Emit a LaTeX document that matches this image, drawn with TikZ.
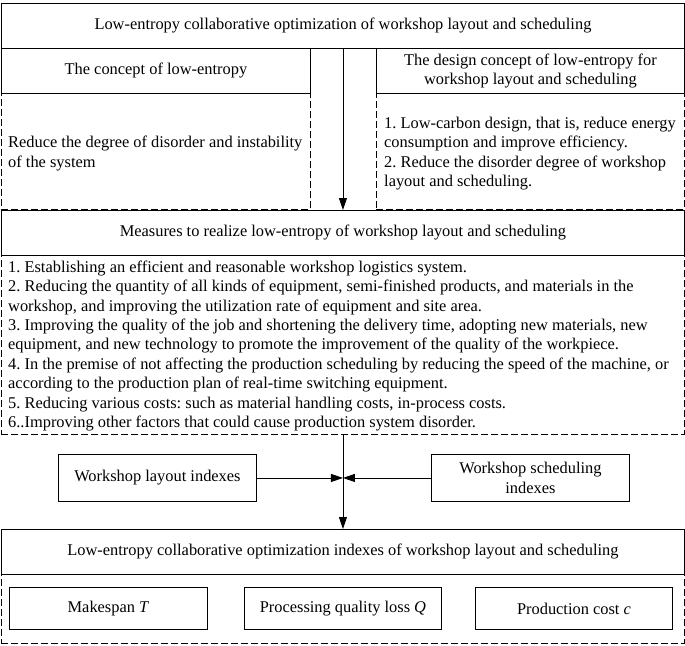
\documentclass[tikz,border=0pt]{standalone}
\usepackage{fontspec}
\setmainfont{Liberation Serif}
\usetikzlibrary{arrows.meta}
\begin{document}
\frenchspacing
\begin{tikzpicture}[x=1pt,y=-1pt,
  solidbox/.style={draw, line width=0.9pt, inner sep=0pt, align=center, anchor=north west, fill=white},
  dashbox/.style={draw, dash pattern=on 7pt off 3pt, line width=0.9pt, anchor=north west, inner sep=0pt},
  txt/.style={anchor=west, align=left, inner sep=0pt},
  arr/.style={line width=0.9pt, -{Triangle[length=12pt,width=8pt]}},
  font=\fontsize{16.4}{19.4}\selectfont]
\useasboundingbox (0,0) rectangle (685,645);
% dashed regions
\node[dashbox, minimum width=309pt, minimum height=116pt] (dleft) at (1,93) {};
\node[dashbox, minimum width=308pt, minimum height=116pt] (dright) at (376,93) {};
\node[dashbox, minimum width=683pt, minimum height=179pt] (mdash) at (1,255) {};
\node[dashbox, minimum width=683pt, minimum height=69pt] (idash) at (1,574) {};
% texts of dashed regions
\node[txt] (tleft) at ([xshift=7pt,yshift=-2pt]dleft.west)
  {Reduce the degree of disorder and instability\\of the system};
\node[txt] (tright) at ([xshift=8pt,yshift=-2pt]dright.west)
  {1. Low-carbon design, that is, reduce energy\\consumption and improve efficiency.\\2. Reduce the disorder degree of workshop\\layout and scheduling.};
\node[txt] (tmeas) at ([xshift=7pt,yshift=-1pt]mdash.west)
  {1. Establishing an efficient and reasonable workshop logistics system.\\
   2. Reducing the quantity of all kinds of equipment, semi-finished products, and materials in the\\
   workshop, and improving the utilization rate of equipment and site area.\\
   3. Improving the quality of the job and shortening the delivery time, adopting new materials, new\\
   equipment, and new technology to promote the improvement of the quality of the workpiece.\\
   4. In the premise of not affecting the production scheduling by reducing the speed of the machine, or\\
   according to the production plan of real-time switching equipment.\\
   5. Reducing various costs: such as material handling costs, in-process costs.\\
   6..Improving other factors that could cause production system disorder.};
% solid boxes
\node[solidbox, minimum width=683pt, minimum height=45pt] (top) at (1,3)
  {Low-entropy collaborative optimization of workshop layout and scheduling};
\node[solidbox, minimum width=309pt, minimum height=45pt] (concept) at (1,48)
  {The concept of low-entropy};
\node[solidbox, minimum width=308pt, minimum height=45pt] (design) at (376,48)
  {The design concept of low-entropy for\\workshop layout and scheduling};
\node[solidbox, minimum width=683pt, minimum height=45pt] (measures) at (1,210)
  {Measures to realize low-entropy of workshop layout and scheduling};
\node[solidbox, minimum width=198pt, minimum height=47pt] (layout) at (58,454)
  {Workshop layout indexes};
\node[solidbox, minimum width=198pt, minimum height=47pt] (sched) at (431,454)
  {Workshop scheduling\\indexes};
\node[solidbox, minimum width=683pt, minimum height=45pt] (indexes) at (1,529)
  {Low-entropy collaborative optimization indexes of workshop layout and scheduling};
\node[solidbox, minimum width=198pt, minimum height=42pt] (mk) at (9,587)
  {Makespan \textit{T}};
\node[solidbox, minimum width=197pt, minimum height=42pt] (pq) at (244,587)
  {Processing quality loss \textit{Q}};
\node[solidbox, minimum width=197pt, minimum height=42pt] (pc) at (475,587)
  {Production cost \textit{c}};
% connectors
\draw[arr] (top.south) -- (measures.north);
\draw[arr] (mdash.south) -- (indexes.north);
\draw[arr] (layout.east) -- (layout.east -| mdash.south);
\draw[arr] (sched.west) -- (sched.west -| mdash.south);
\end{tikzpicture}
\end{document}
